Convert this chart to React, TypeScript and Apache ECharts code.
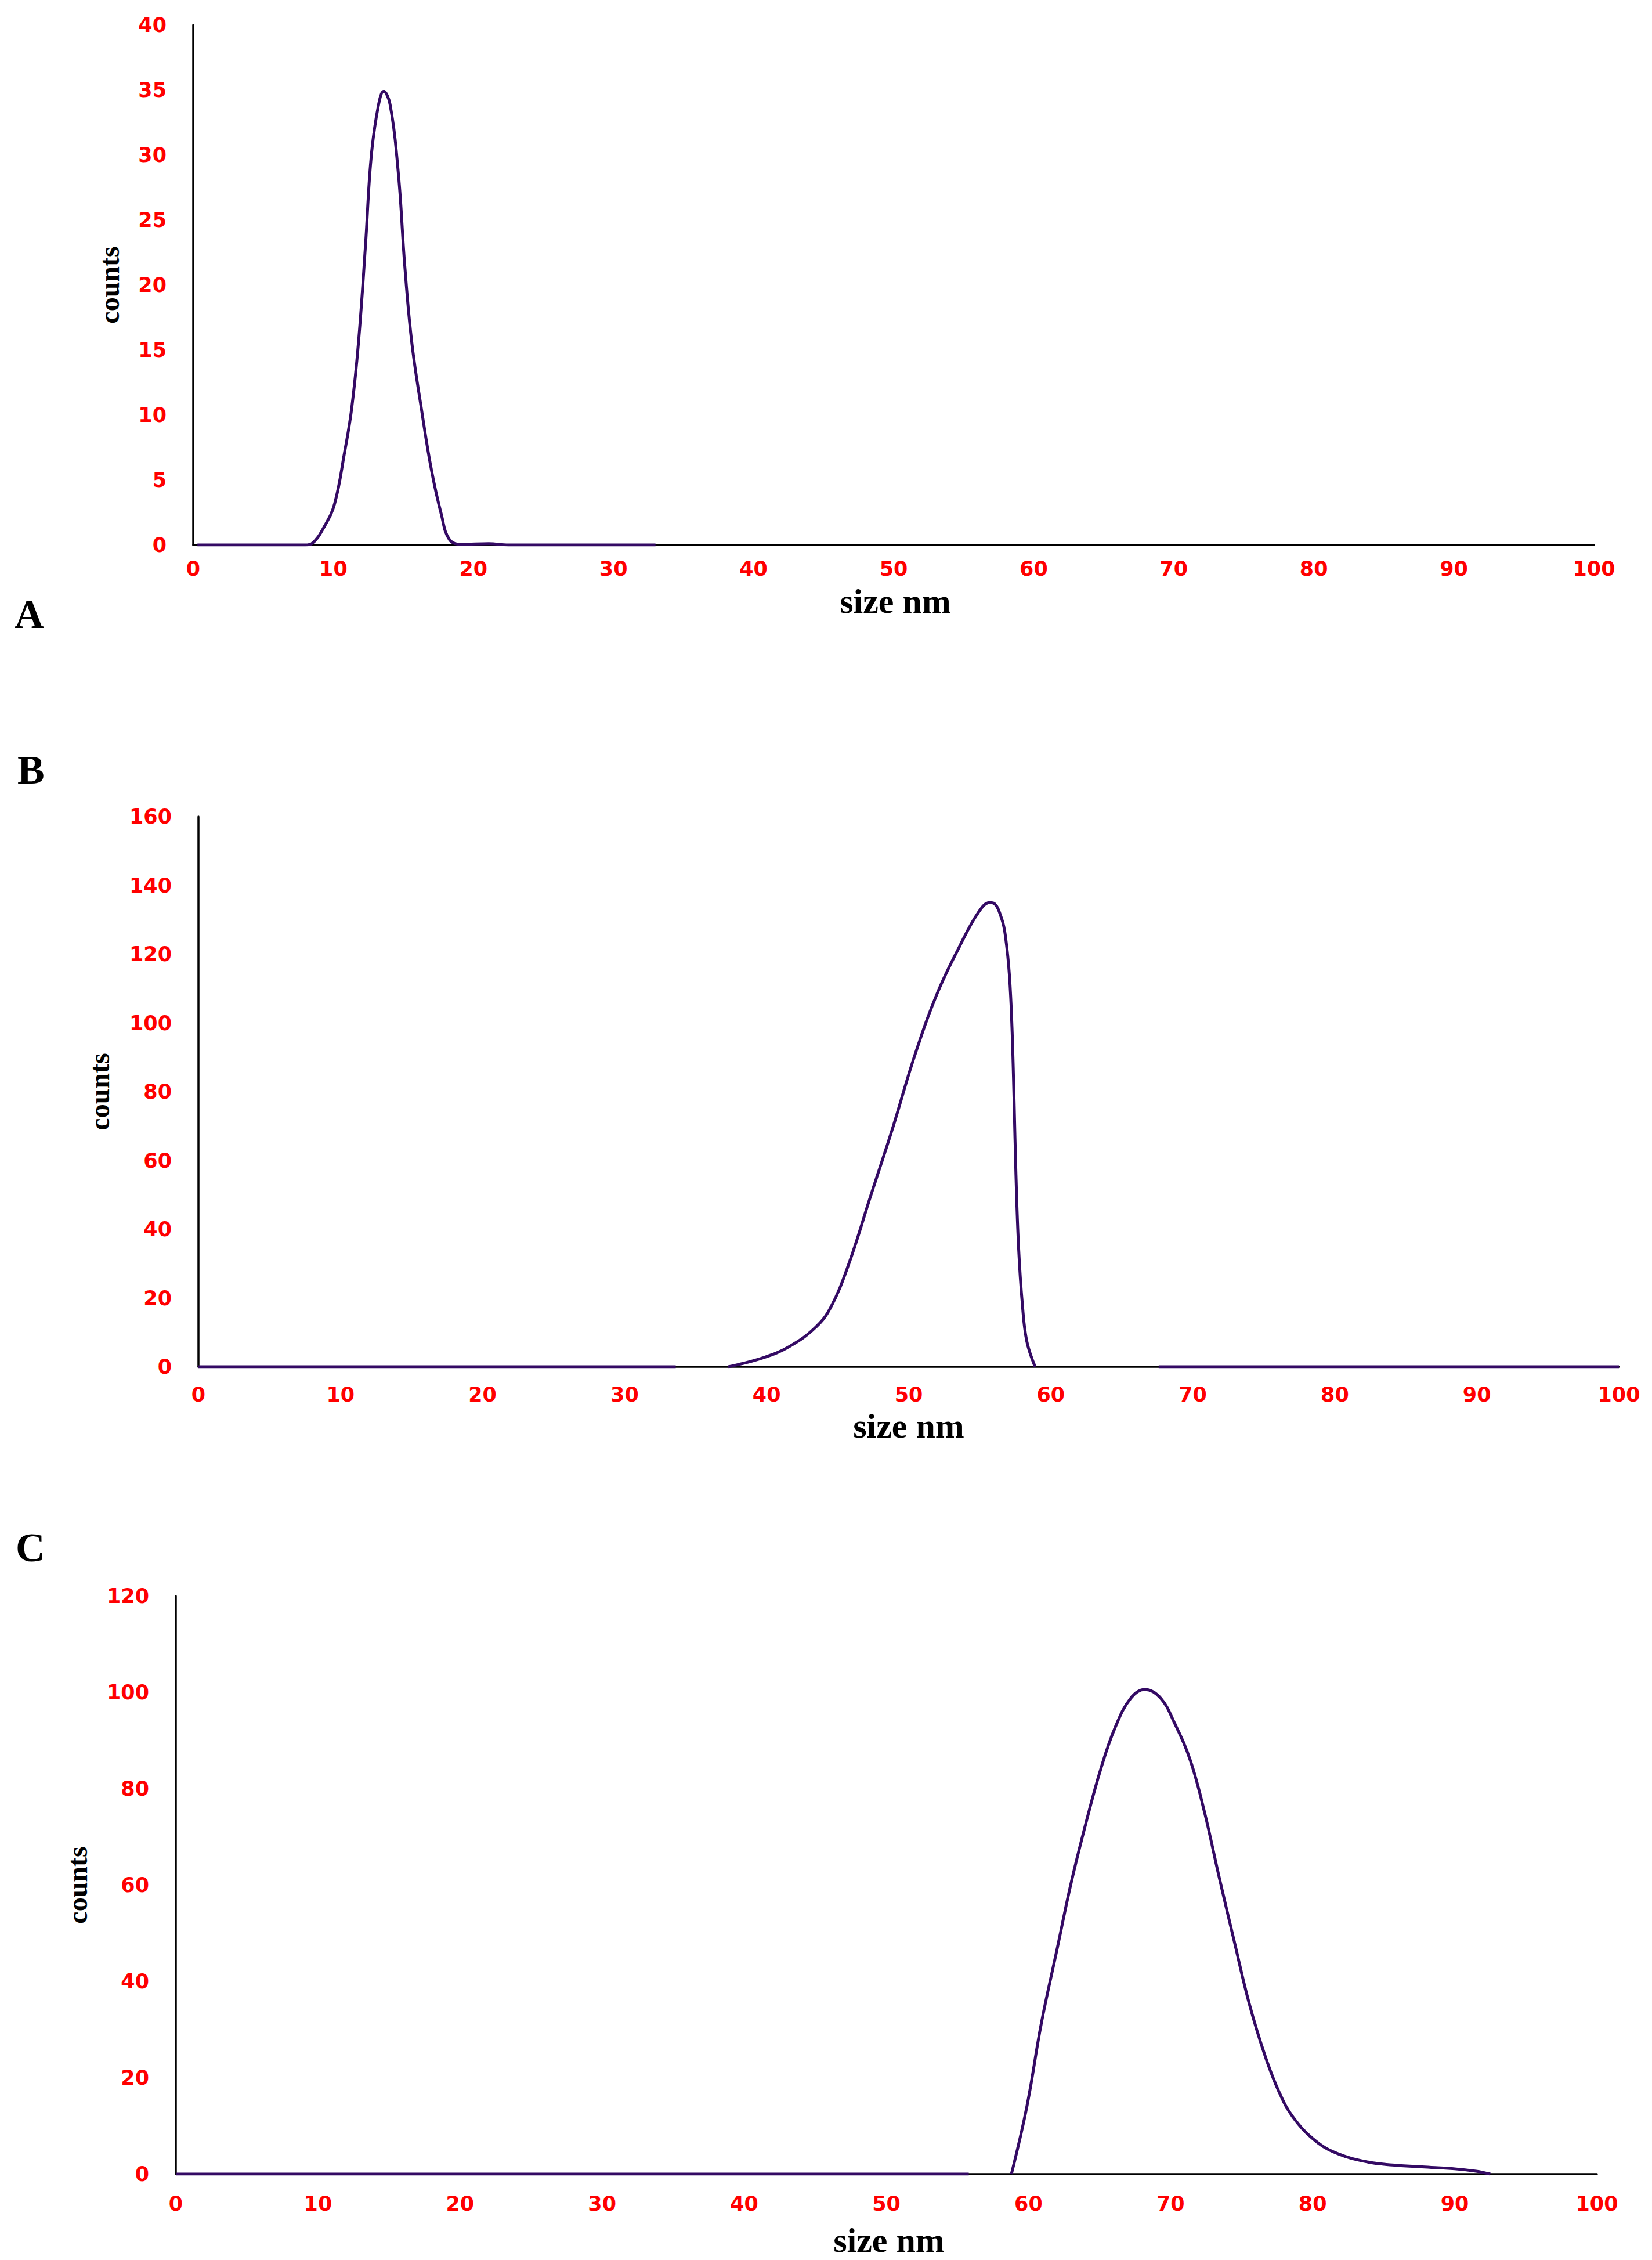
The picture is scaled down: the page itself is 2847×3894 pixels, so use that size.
import React, { useEffect, useRef } from "react";
import * as echarts from "echarts";

// ---------- data ----------
const xTicksMax = 100;

// Panel A
const aX = [0.3, 4, 8.0, 8.46, 9.4, 10.1, 10.8, 11.3, 11.8, 12.3, 12.7, 13.2, 13.6, 14.05, 14.65, 15.1, 15.6, 16.3, 17.0, 17.7, 18.3, 19.2, 21.1, 22.5, 33];
const aY = [0, 0, 0, 0.1, 1.5, 3.2, 7.1, 10.4, 15.6, 23.1, 29.8, 33.7, 34.9, 33.9, 28.5, 21.5, 15.6, 10.4, 5.8, 2.4, 0.4, 0.05, 0.1, 0, 0];

// Panel B
const bBaseLeft = [0, 33.6];
const bX = [37.3, 39.8, 41.6, 43.4, 44.5, 45.8, 47.3, 48.9, 50.4, 52.0, 53.6, 54.9, 55.7, 56.0, 56.57, 56.83, 57.09, 57.27, 57.42, 57.55, 57.74, 58.0, 58.31, 58.9];
const bY = [0, 2.7, 5.9, 11.3, 17.2, 30.1, 49.4, 69.8, 90.2, 108.5, 122.4, 132.1, 135, 134.8, 130, 124.6, 113.9, 98.8, 77.3, 55.9, 34.4, 18.3, 7.5, 0];
const bBaseRight = [67.6, 100];

// Panel C
const cBaseLeft = [0, 55.8];
const cX = [58.8, 59.9, 60.9, 62.0, 63.0, 64.1, 65.1, 66.1, 67.2, 68.2, 69.3, 70.3, 71.4, 72.4, 73.4, 74.5, 75.5, 76.6, 77.6, 78.6, 80.2, 81.8, 83.9, 85.6, 87.7, 90.0, 91.5, 92.5];
const cY = [0, 14.2, 31.2, 46.5, 60.4, 73.5, 84.2, 92.7, 98.8, 100.6, 98.8, 93.5, 85.8, 75, 61.9, 48.1, 35.8, 25, 17.3, 11.9, 6.9, 4.2, 2.5, 1.9, 1.5, 1.1, 0.6, 0];

const yMax = [40, 160, 120];
const yStep = [5, 20, 20];
const panelLetters = ["A", "B", "C"];
const xTitle = "size nm";
const yTitle = "counts";

// ---------- styles ----------
const LINE = "#340a64";
const RED = "#ff0000";

const zip = (xs: number[], ys: number[]) => xs.map((x, i) => [x, ys[i]]);
const flat = (r: number[]) => [[r[0], 0], [r[1], 0]];

export default function App() {
  const ref = useRef<HTMLDivElement>(null);

  useEffect(() => {
    document.body.style.margin = "0";
    if (!ref.current) return;
    const chart = echarts.init(ref.current, undefined, { renderer: "svg" });

    const grids = [
      { left: 333, top: 43, width: 2414, height: 896 },
      { left: 342, top: 1407, width: 2448, height: 948 },
      { left: 303, top: 2750, width: 2449, height: 996 },
    ];
    const xLabelMargin = [23, 30, 33];

    const labelStyle = {
      color: RED,
      fontFamily: "DejaVu Sans",
      fontWeight: "bold" as const,
      fontSize: 35,
    };

    const xAxis = grids.map((_, i) => ({
      type: "value",
      gridIndex: i,
      min: 0,
      max: xTicksMax,
      interval: 10,
      axisLine: { show: true, lineStyle: { color: "#000", width: 3.5 } },
      axisTick: { show: false },
      splitLine: { show: false },
      axisLabel: { ...labelStyle, margin: xLabelMargin[i], showMinLabel: true, showMaxLabel: true },
    }));
    const yAxis = grids.map((_, i) => ({
      type: "value",
      gridIndex: i,
      min: 0,
      max: yMax[i],
      interval: yStep[i],
      axisLine: { show: true, lineStyle: { color: "#000", width: 3.5 } },
      axisTick: { show: false },
      splitLine: { show: false },
      axisLabel: { ...labelStyle, margin: 46, showMinLabel: true, showMaxLabel: true },
    }));

    const lineSeries = (data: number[][], i: number) => ({
      type: "line",
      xAxisIndex: i,
      yAxisIndex: i,
      data,
      symbol: "none",
      showSymbol: false,
      smooth: 0.4,
      silent: true,
      lineStyle: { color: LINE, width: 5 },
    });

    const series = [
      lineSeries(zip(aX, aY), 0),
      lineSeries(flat(bBaseLeft), 1),
      lineSeries(zip(bX, bY), 1),
      lineSeries(flat(bBaseRight), 1),
      lineSeries(flat(cBaseLeft), 2),
      lineSeries(zip(cX, cY), 2),
    ];

    const serif = "'Liberation Serif', 'Times New Roman', serif";
    const xTitlePos = [
      { x: 1543, y: 1036 },
      { x: 1566, y: 2457 },
      { x: 1532, y: 3860 },
    ];
    const yTitlePos = [
      { x: 188, y: 491 },
      { x: 171, y: 1881 },
      { x: 133, y: 3248 },
    ];
    const letterPos = [
      { x: 25, y: 1058 },
      { x: 30, y: 1326 },
      { x: 27, y: 2666 },
    ];

    const graphic: any[] = [];
    for (let i = 0; i < 3; i++) {
      graphic.push({
        type: "text",
        x: xTitlePos[i].x,
        y: xTitlePos[i].y,
        style: {
          text: xTitle,
          fill: "#000",
          font: `bold 60px ${serif}`,
          align: "center",
          verticalAlign: "middle",
        },
      });
      graphic.push({
        type: "text",
        x: yTitlePos[i].x,
        y: yTitlePos[i].y,
        rotation: Math.PI / 2,
        style: {
          text: yTitle,
          fill: "#000",
          font: `bold 48px ${serif}`,
          align: "center",
          verticalAlign: "middle",
        },
      });
      graphic.push({
        type: "text",
        x: letterPos[i].x,
        y: letterPos[i].y,
        style: {
          text: panelLetters[i],
          fill: "#000",
          font: `bold 70px ${serif}`,
          align: "left",
          verticalAlign: "middle",
        },
      });
    }

    chart.setOption({
      animation: false,
      backgroundColor: "#fff",
      grid: grids,
      xAxis,
      yAxis,
      series,
      graphic,
    } as any);

    return () => chart.dispose();
  }, []);

  return <div ref={ref} style={{ width: 2847, height: 3894 }} />;
}
